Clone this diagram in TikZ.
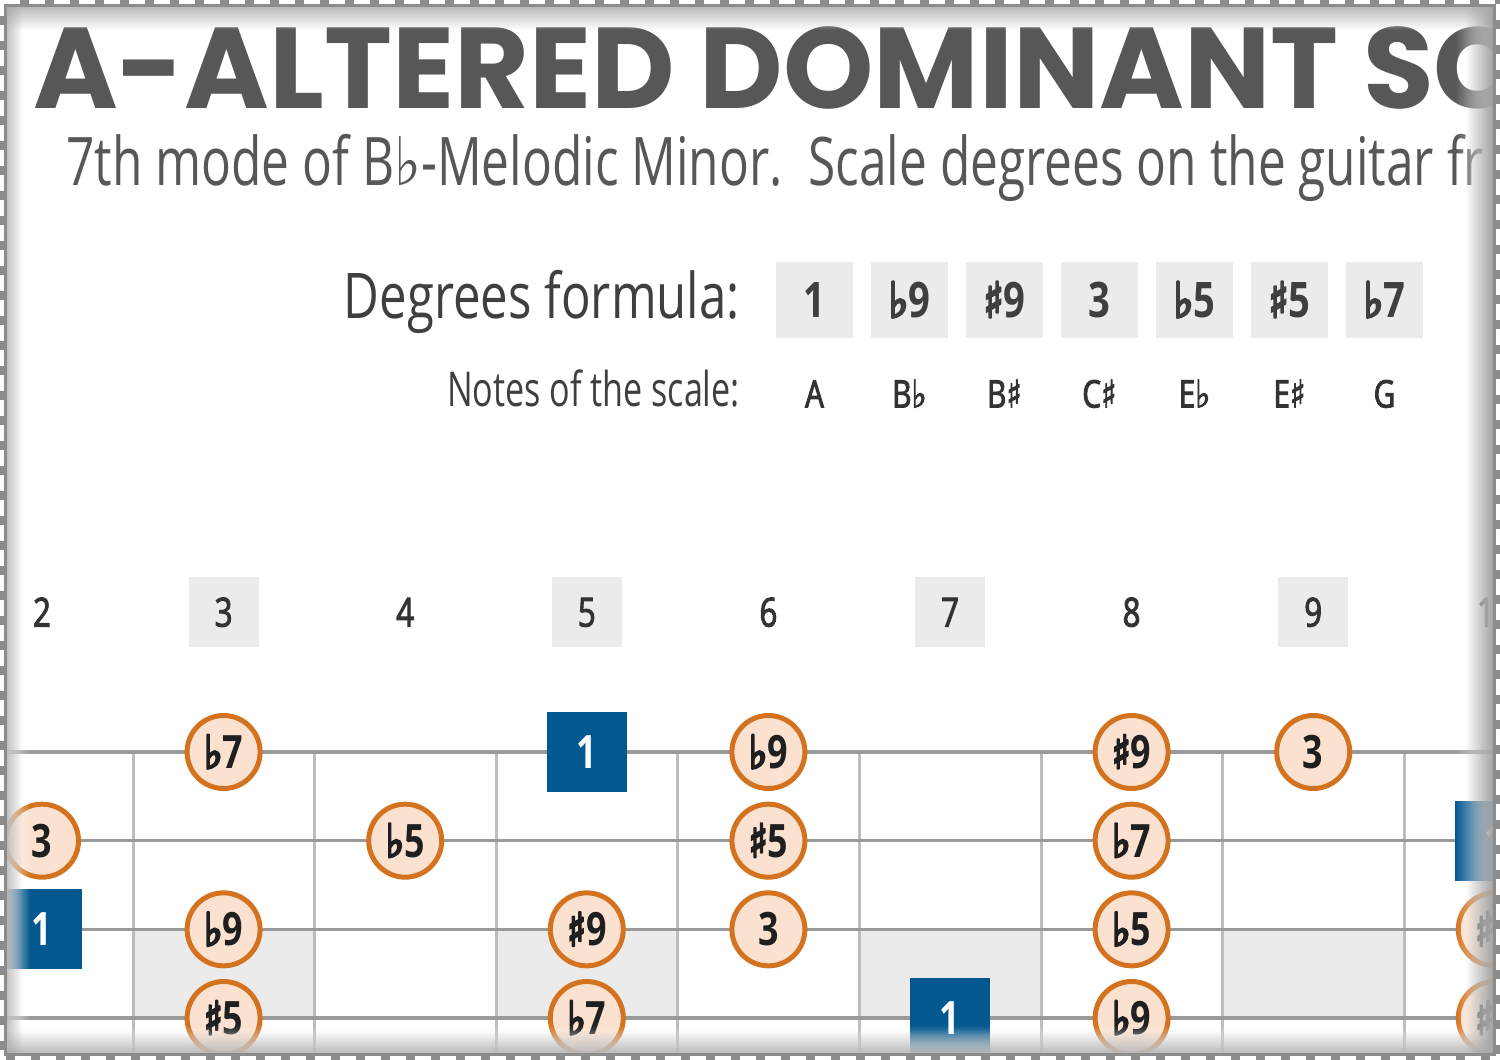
\documentclass[tikz,border=0pt]{standalone}
\usepackage{fontspec}
\setmainfont{Open Sans}
\newfontfamily\titlefont{Poppins}
\newfontfamily\condfont{Open Sans}[FakeStretch=0.78]
\newfontfamily\narrowfont{Open Sans}[FakeStretch=0.74]
\newfontfamily\thinfont{Open Sans}[FakeStretch=0.71]
\newfontfamily\mediumfont{Open Sans}[FakeStretch=0.78, FakeBold=2.5]
\newfontfamily\symfont{DejaVu Sans}[FakeStretch=0.85]
\newfontfamily\symmedium{DejaVu Sans}[FakeStretch=0.85, FakeBold=2.5]
\newfontfamily\symbold{DejaVu Sans}[FakeStretch=0.85, FakeBold=5]
\usetikzlibrary{fadings}

\definecolor{titlegray}{HTML}{575757}
\definecolor{textgray}{HTML}{3F3F3F}
\definecolor{boxgray}{HTML}{EBEBEB}
\definecolor{stringgray}{HTML}{9A9A9A}
\definecolor{fretgray}{HTML}{BDBDBD}
\definecolor{noteorange}{HTML}{D4731F}
\definecolor{notefill}{HTML}{FBE2D0}
\definecolor{rootblue}{HTML}{03588F}

\newcommand{\flt}{{\symfont ♭}}
\newcommand{\mflt}{{\symmedium ♭}}
\newcommand{\mshp}{{\symmedium ♯}}
\newcommand{\bflt}{{\symbold ♭}}
\newcommand{\bshp}{{\symbold ♯}}

\tikzset{
  degbox/.style={fill=boxgray, minimum width=77pt, minimum height=76pt, inner sep=0pt,
    text height=35pt, text depth=0pt, font=\condfont\bfseries\fontsize{49}{49}\selectfont, text=textgray},
  notename/.style={inner sep=0pt, text height=27pt, text depth=0pt,
    font=\mediumfont\fontsize{38}{38}\selectfont, text=black!80},
  fretnum/.style={minimum width=70pt, minimum height=70pt, inner sep=0pt, text height=29pt, text depth=0pt,
    font=\mediumfont\fontsize{40}{40}\selectfont, text=black!80},
  degnote/.style={circle, draw=noteorange, line width=5pt, fill=notefill, minimum size=73pt, inner sep=0pt,
    text height=33pt, text depth=0pt, font=\condfont\bfseries\fontsize{46}{46}\selectfont, text=black!88},
  rootbox/.style={fill=rootblue, minimum size=80pt, inner sep=0pt, text height=33pt, text depth=0pt,
    font=\condfont\bfseries\fontsize{46}{46}\selectfont, text=white},
}

\begin{document}
\begin{tikzpicture}[x=1pt, y=-1pt]
\useasboundingbox (0,0) rectangle (1500,1060);
\clip (0,0) rectangle (1500,1060);
\fill[white] (0,0) rectangle (1500,1060);

% heading
\node[anchor=base west, inner sep=0pt, text=titlegray, font=\titlefont\bfseries\fontsize{115}{115}\selectfont] (title) at (33,108) {A-ALTERED DOMINANT SC};
\node[anchor=base west, inner sep=0pt, text=titlegray, font=\narrowfont\fontsize{67}{67}\selectfont] (subtitle) at (66,185) {7th mode of B\flt-Melodic Minor.\ \ Scale degrees on the guitar fr};

% formula and notes
\node[anchor=base east, inner sep=0pt, text=textgray, font=\condfont\fontsize{63}{63}\selectfont] (formula) at (740,318) {Degrees formula:};
\node[anchor=base east, inner sep=0pt, text=textgray, font=\thinfont\fontsize{48}{48}\selectfont] (scalenotes) at (740,406) {Notes of the scale:};
\foreach \lbl [count=\i] in {1, \bflt9, \bshp9, 3, \bflt5, \bshp5, \bflt7}
  \node[degbox] (deg\i) at (719.5+95*\i, 300) {\lbl};
\foreach \lbl [count=\i] in {A, B\mflt, B\mshp, C\mshp, E\mflt, E\mshp, G}
  \node[notename] (name\i) at (719.5+95*\i, 394) {\lbl};

% fret numbers
\foreach \f in {2,4,6,8,10}
  \node[fretnum] (fret\f) at ({42+181.6*(\f-2)}, 612) {\f};
\foreach \f in {3,5,7,9}
  \node[fretnum, fill=boxgray] (fret\f) at ({42+181.6*(\f-2)}, 612) {\f};

% fretboard
\foreach \f in {3,5,7,9}
  \fill[boxgray] ({133+181.6*(\f-3)}, 929.3) rectangle ({133+181.6*(\f-2)}, 1018);
\foreach \k in {0,...,7}
  \draw[fretgray, line width=3pt] ({133+181.6*\k}, 752) -- ({133+181.6*\k}, 1070);
\foreach \s in {1,...,4}
  \draw[stringgray, line width=3.5pt] (0, {752+88.67*(\s-1)}) -- (1500, {752+88.67*(\s-1)});

% scale degrees
\foreach \s/\f/\lbl in {1/3/\bflt7, 1/6/\bflt9, 1/8/\bshp9, 1/9/3,
    2/2/3, 2/4/\bflt5, 2/6/\bshp5, 2/8/\bflt7,
    3/3/\bflt9, 3/5/\bshp9, 3/6/3, 3/8/\bflt5, 3/10/\bshp5,
    4/3/\bshp5, 4/5/\bflt7, 4/8/\bflt9, 4/10/\bshp9}
  \node[degnote] (n\s-\f) at ({42+181.6*(\f-2)}, {752+88.67*(\s-1)}) {\lbl};
\foreach \s/\f in {1/5, 2/10, 3/2, 4/7}
  \node[rootbox] (root\s-\f) at ({42+181.6*(\f-2)}, {752+88.67*(\s-1)}) {1};

% frame
\fill[white, path fading=east] (0,0) rectangle (30,1060);
\fill[white, path fading=west] (1455,0) rectangle (1500,1060);
\fill[white, path fading=south] (0,0) rectangle (1500,30);
\fill[white, path fading=north] (0,1025) rectangle (1500,1060);
\fill[black!35, path fading=east] (0,0) rectangle (22,1060);
\fill[black!45, path fading=west] (1465,0) rectangle (1500,1060);
\fill[black!35, path fading=south] (0,0) rectangle (1500,30);
\fill[black!35, path fading=north] (0,1030) rectangle (1500,1060);
\draw[black!45, line width=14pt] (0,0) rectangle (1500,1060);
\draw[white, line width=8pt, dash pattern=on 16pt off 9pt] (0,0) rectangle (1500,1060);
\end{tikzpicture}
\end{document}
